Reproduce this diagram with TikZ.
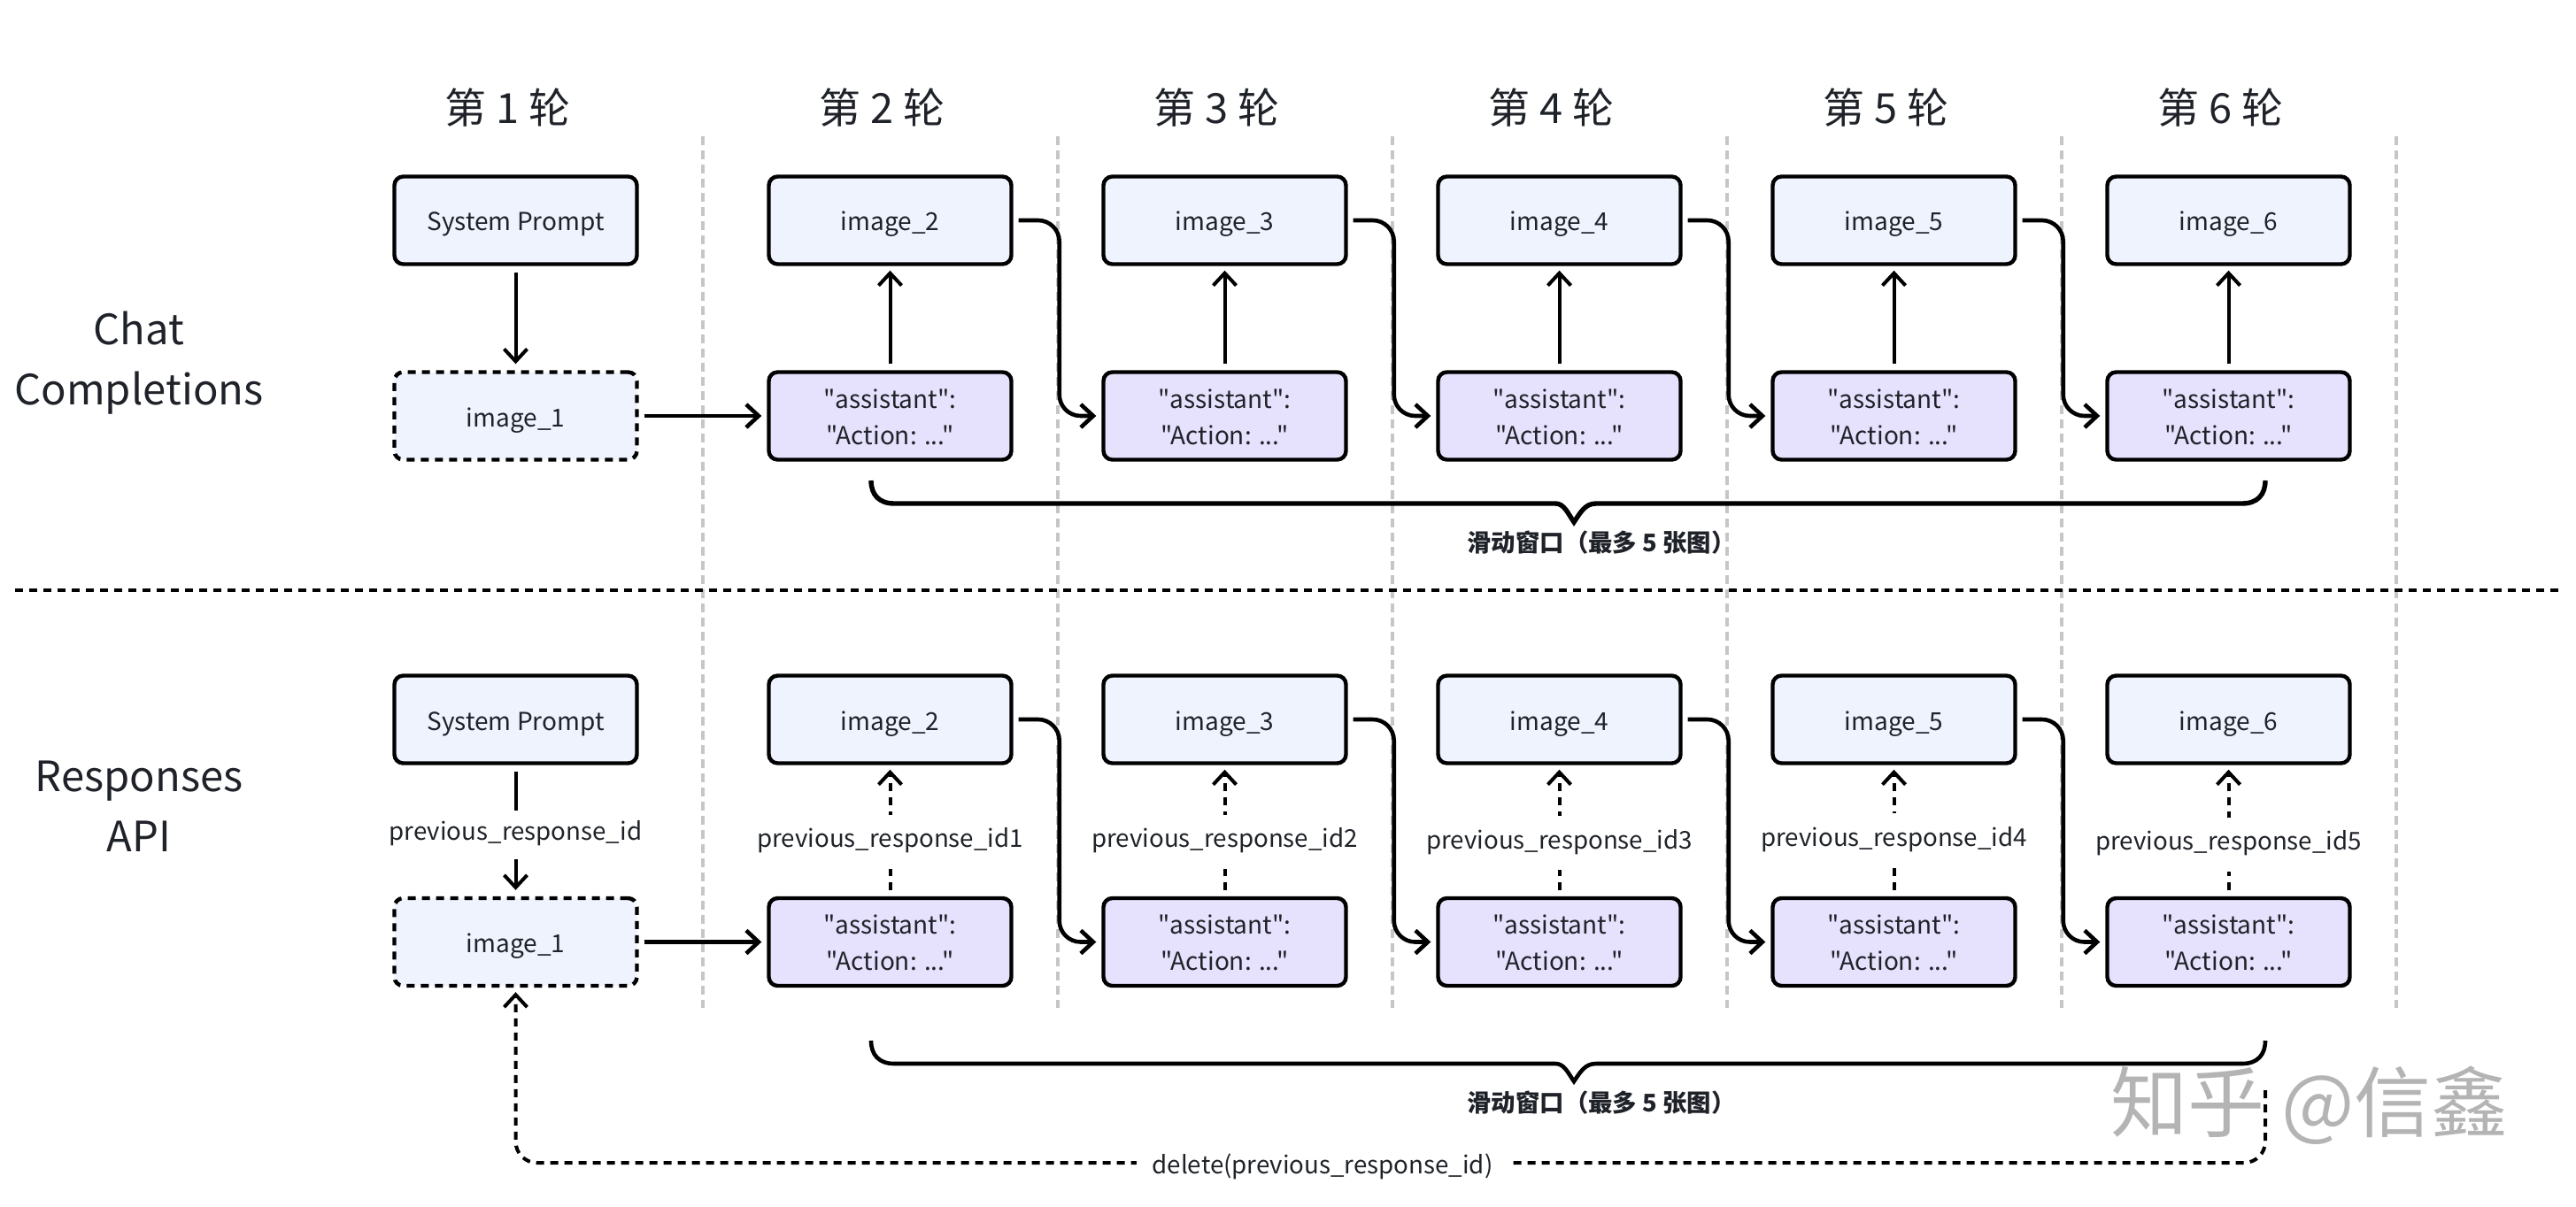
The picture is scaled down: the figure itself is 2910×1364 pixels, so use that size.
\documentclass[tikz,border=0pt]{standalone}
\usepackage{fontspec}
\setmainfont{Noto Sans CJK SC}[Ligatures=TeXOff]
\usetikzlibrary{arrows.meta}
\definecolor{imgblue}{HTML}{EFF3FE}
\definecolor{asstviolet}{HTML}{E6E1FD}
\definecolor{textgray}{HTML}{1F2329}
\definecolor{sepgray}{HTML}{C6C6C6}
\definecolor{markgray}{HTML}{B4B4B4}

\begin{document}
\begin{tikzpicture}[x=0.5pt,y=-0.5pt,>={Straight Barb[length=7pt,width=13pt]},node distance=189pt,
    box/.style={draw=black,line width=2.2pt,rounded corners=5pt,minimum width=137pt,minimum height=49.5pt,inner sep=0pt,align=center,font=\fontsize{14}{20.5}\selectfont,text=textgray},
    imgbox/.style={box,fill=imgblue,text height=12pt,text depth=0pt},
    asstbox/.style={box,fill=asstviolet,text height=32pt,text depth=0pt},
    dashbox/.style={imgbox,dash pattern=on 4.5pt off 3.5pt},
    round title/.style={font=\fontsize{23.5}{28}\selectfont,text=textgray,xshift=-4.5pt},
    row title/.style={font=\fontsize{23.6}{34}\selectfont,text=textgray,align=center},
    window title/.style={font=\fontsize{13.7}{18}\selectfont\bfseries,text=textgray},
    id label/.style={fill=white,font=\fontsize{13.85}{18}\selectfont,text=textgray,inner xsep=0pt,text height=10.5pt,text depth=4pt,inner ysep=6.5pt},
    dash label/.style={id label,inner ysep=8pt},
    link/.style={->,line width=2pt,shorten <=3.5pt,shorten >=3.5pt},
    uplink/.style={link,shorten >=2.5pt},
    flowlink/.style={link,line width=2.3pt,shorten <=3pt,shorten >=3pt},
    elbow/.style={flowlink,rounded corners=12pt},
    dashlink/.style={uplink,dash pattern=on 4.5pt off 3.5pt},
    brace/.style={line width=2.7pt},
    separator/.style={sepgray,line width=2pt,dash pattern=on 5pt off 3pt}]

    \useasboundingbox (0,0) rectangle (2910,1364);

    % separators
    \draw[separator] (794,154) -- (794,1139);
    \draw[separator] (1194.5,154) -- (1194.5,1139);
    \draw[separator] (1572.5,154) -- (1572.5,1139);
    \draw[separator] (1950.5,154) -- (1950.5,1139);
    \draw[separator] (2328.5,154) -- (2328.5,1139);
    \draw[separator] (2706.5,154) -- (2706.5,1139);
    \draw[line width=2pt,dash pattern=on 4.5pt off 3.5pt] (17,667) -- (2896,667);

    % upper row
    \node[imgbox] (t1) at (582.5,249) {System Prompt};
    \node[imgbox] (t2) at (1005.5,249) {image\_2};
    \node[imgbox] (t3) [right of = t2]{image\_3};
    \node[imgbox] (t4) [right of = t3]{image\_4};
    \node[imgbox] (t5) [right of = t4]{image\_5};
    \node[imgbox] (t6) [right of = t5]{image\_6};

    \node[dashbox] (a1) at (582.5,470) {image\_1};
    \node[asstbox] (a2) at (1005.5,470) {"assistant":\\"Action: ..."};
    \node[asstbox] (a3) [right of = a2]{"assistant":\\"Action: ..."};
    \node[asstbox] (a4) [right of = a3]{"assistant":\\"Action: ..."};
    \node[asstbox] (a5) [right of = a4]{"assistant":\\"Action: ..."};
    \node[asstbox] (a6) [right of = a5]{"assistant":\\"Action: ..."};

    \node[round title] (r1) [above of = t1, node distance=63.5pt]{第 1 轮};
    \node[round title] (r2) [above of = t2, node distance=63.5pt]{第 2 轮};
    \node[round title] (r3) [above of = t3, node distance=63.5pt]{第 3 轮};
    \node[round title] (r4) [above of = t4, node distance=63.5pt]{第 4 轮};
    \node[round title] (r5) [above of = t5, node distance=63.5pt]{第 5 轮};
    \node[round title] (r6) [above of = t6, node distance=63.5pt]{第 6 轮};

    \node[row title] (chat) at (157,410) {Chat\\Completions};

    \draw[link] (t1) to (a1);
    \draw[flowlink] (a1) to (a2);
    \draw[uplink] (a2) to (t2);
    \draw[uplink] (a3) to (t3);
    \draw[uplink] (a4) to (t4);
    \draw[uplink] (a5) to (t5);
    \draw[uplink] (a6) to (t6);
    \draw[elbow] (t2.east) -- ++(52,0) |- (a3.west);
    \draw[elbow] (t3.east) -- ++(52,0) |- (a4.west);
    \draw[elbow] (t4.east) -- ++(52,0) |- (a5.west);
    \draw[elbow] (t5.east) -- ++(52,0) |- (a6.west);

    \draw[brace] (984,543) .. controls (984,559) and (993,569) .. (1010,569) -- (1757,569) .. controls (1767,569) and (1771,580) .. (1778,590) .. controls (1785,580) and (1790,569) .. (1803,569) -- (2533,569) .. controls (2550,569) and (2559,559) .. (2559,543);
    \node[window title] (w1) at (1809,613) {滑动窗口（最多 5 张图）};

    % lower row
    \node[imgbox] (u1) at (582.5,813) {System Prompt};
    \node[imgbox] (u2) at (1005.5,813) {image\_2};
    \node[imgbox] (u3) [right of = u2]{image\_3};
    \node[imgbox] (u4) [right of = u3]{image\_4};
    \node[imgbox] (u5) [right of = u4]{image\_5};
    \node[imgbox] (u6) [right of = u5]{image\_6};

    \node[dashbox] (b1) at (582.5,1064.5) {image\_1};
    \node[asstbox] (b2) at (1005.5,1064.5) {"assistant":\\"Action: ..."};
    \node[asstbox] (b3) [right of = b2]{"assistant":\\"Action: ..."};
    \node[asstbox] (b4) [right of = b3]{"assistant":\\"Action: ..."};
    \node[asstbox] (b5) [right of = b4]{"assistant":\\"Action: ..."};
    \node[asstbox] (b6) [right of = b5]{"assistant":\\"Action: ..."};

    \node[row title] (resp) at (157,911) {Responses\\API};

    \draw[link] (u1) to node[id label,pos=0.53]{previous\_response\_id} (b1);
    \draw[flowlink] (b1) to (b2);
    \draw[dashlink] (b2) to node[dash label,pos=0.415]{previous\_response\_id1} (u2);
    \draw[dashlink] (b3) to node[dash label,pos=0.415]{previous\_response\_id2} (u3);
    \draw[dashlink] (b4) to node[dash label,pos=0.405]{previous\_response\_id3} (u4);
    \draw[dashlink] (b5) to node[dash label,pos=0.425]{previous\_response\_id4} (u5);
    \draw[dashlink] (b6) to node[dash label,pos=0.395]{previous\_response\_id5} (u6);
    \draw[elbow] (u2.east) -- ++(52,0) |- (b3.west);
    \draw[elbow] (u3.east) -- ++(52,0) |- (b4.west);
    \draw[elbow] (u4.east) -- ++(52,0) |- (b5.west);
    \draw[elbow] (u5.east) -- ++(52,0) |- (b6.west);

    \draw[brace,line width=2.3pt] (984,1176) .. controls (984,1192) and (993,1202) .. (1010,1202) -- (1757,1202) .. controls (1767,1202) and (1771,1212) .. (1778,1222) .. controls (1785,1212) and (1790,1202) .. (1803,1202) -- (2533,1202) .. controls (2550,1202) and (2559,1192) .. (2559,1176);
    \node[window title] (w2) at (1809,1246) {滑动窗口（最多 5 张图）};

    \coordinate (del start) at (2559,1232);
    \draw[dashlink,shorten <=0pt,rounded corners=12pt] (del start) -- ++(0,82) -| (b1.south);
    \node[fill=white,font=\fontsize{13.85}{18}\selectfont,text=textgray,inner xsep=9pt,inner ysep=2pt] (del) at (1494,1318) {delete(previous\_response\_id)};

    \node[font=\fontsize{43.5}{50}\selectfont,text=markgray,inner sep=0pt] (mark) at (2609,1249) {知乎 @信鑫};
\end{tikzpicture}
\end{document}
